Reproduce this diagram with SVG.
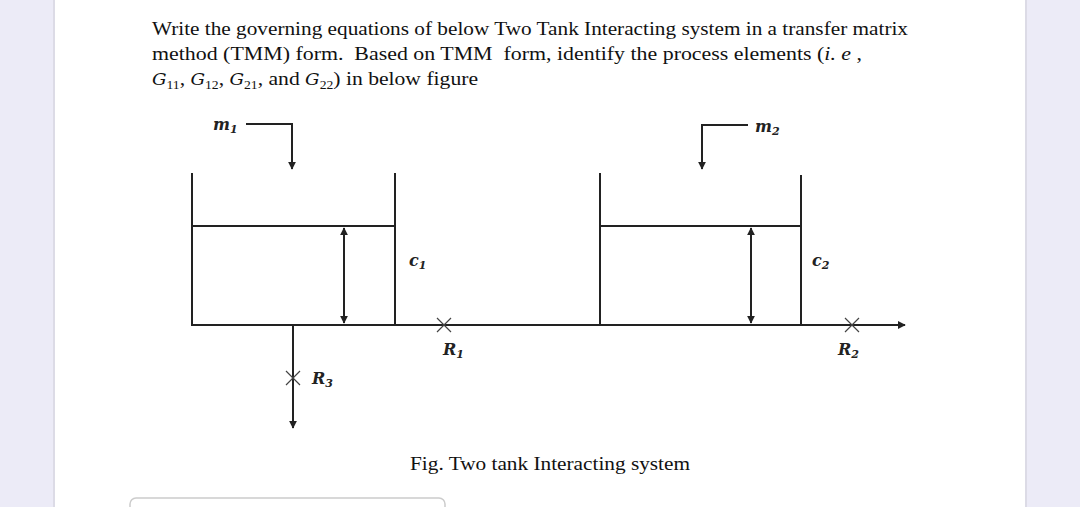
<svg xmlns="http://www.w3.org/2000/svg" width="1080" height="507" viewBox="0 0 1080 507">
<style>
.t{font-family:"Liberation Serif",serif;font-size:19px;fill:#111}
.m{font-family:"DejaVu Serif","Liberation Serif",serif;font-style:italic;font-weight:bold;font-size:16px;fill:#222}
.s{font-size:11px}
.l{stroke:#222;stroke-width:2;fill:none}
.x{stroke:#444;stroke-width:1.2}
</style>
<defs>
<marker id="a" viewBox="0 0 10 10" refX="9" refY="5" markerWidth="4" markerHeight="4" orient="auto-start-reverse"><path d="M0,0L10,5L0,10z" fill="#222"/></marker>
</defs>
<rect width="1080" height="507" fill="#ecebf7"/>
<rect x="55" y="0" width="970" height="507" fill="#fff"/>
<rect x="53" y="0" width="2" height="507" fill="#dcdbe6"/>
<rect x="1025" y="0" width="2" height="507" fill="#dcdbe6"/>
<rect x="130" y="498" width="315" height="20" rx="6" fill="#fff" stroke="#ccc" stroke-width="1.5"/>
<text class="t" x="152" y="35" textLength="756" lengthAdjust="spacingAndGlyphs">Write the governing equations of below Two Tank Interacting system in a transfer matrix</text>
<text class="t" x="152" y="60" textLength="710" lengthAdjust="spacingAndGlyphs" xml:space="preserve">method (TMM) form.  Based on TMM  form, identify the process elements (<tspan font-style="italic">i. e</tspan> ,</text>
<text class="t" x="152" y="85" textLength="326" lengthAdjust="spacingAndGlyphs"><tspan font-family="DejaVu Serif" font-style="italic" font-size="16">G</tspan><tspan font-size="12" dy="4">11</tspan><tspan dy="-4">, </tspan><tspan font-family="DejaVu Serif" font-style="italic" font-size="16">G</tspan><tspan font-size="12" dy="4">12</tspan><tspan dy="-4">, </tspan><tspan font-family="DejaVu Serif" font-style="italic" font-size="16">G</tspan><tspan font-size="12" dy="4">21</tspan><tspan dy="-4">, and </tspan><tspan font-family="DejaVu Serif" font-style="italic" font-size="16">G</tspan><tspan font-size="12" dy="4">22</tspan><tspan dy="-4">) in below figure</tspan></text>
<g id="tank1">
<path class="l" d="M192,173V325H395V173M192,226H395"/>
</g>
<g id="tank2">
<path class="l" d="M600,173V325H801V175M600,226H801"/>
</g>
<g id="connectors">
<path class="l" d="M246,124H292V169" marker-end="url(#a)"/>
<path class="l" d="M748,125H702V169" marker-end="url(#a)"/>
<path class="l" d="M344,228V323" marker-start="url(#a)" marker-end="url(#a)"/>
<path class="l" d="M751,228V323" marker-start="url(#a)" marker-end="url(#a)"/>
<path class="l" d="M395,325H600"/>
<path class="l" d="M801,325H905" marker-end="url(#a)"/>
<path class="l" d="M293,325V428" marker-end="url(#a)"/>
<path class="x" d="M437,318l14,14M451,318l-14,14M845,318l14,14M859,318l-14,14M286,371l14,14M300,371l-14,14"/>
</g>
<g id="labels">
<text class="m" x="213" y="130">m<tspan class="s" dy="3">1</tspan></text>
<text class="m" x="755" y="132">m<tspan class="s" dy="3">2</tspan></text>
<text class="m" x="409" y="266">c<tspan class="s" dy="3">1</tspan></text>
<text class="m" x="812" y="266">c<tspan class="s" dy="3">2</tspan></text>
<text class="m" x="443" y="355">R<tspan class="s" dy="3">1</tspan></text>
<text class="m" x="838" y="355">R<tspan class="s" dy="3">2</tspan></text>
<text class="m" x="312" y="384">R<tspan class="s" dy="3">3</tspan></text>
</g>
<text class="t" x="410" y="470" textLength="280" lengthAdjust="spacingAndGlyphs">Fig. Two tank Interacting system</text>
</svg>
